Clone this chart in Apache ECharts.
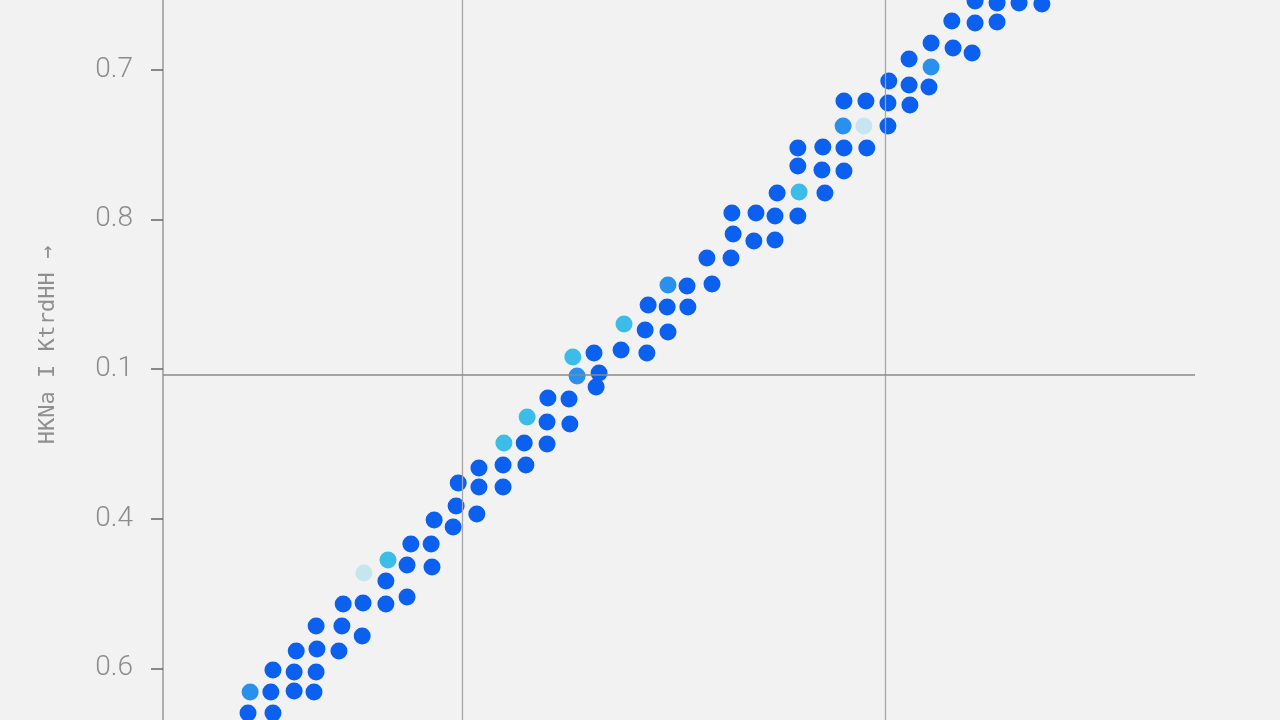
<!DOCTYPE html>
<html>
<head>
<meta charset="utf-8">
<script src="https://cdn.jsdelivr.net/npm/echarts@6/dist/echarts.min.js"></script>
<style>
  html, body { margin: 0; padding: 0; background: #f2f2f2; }
  #chart { width: 1280px; height: 720px; }
</style>
</head>
<body>
<div id="chart"></div>
<script>
// ---- data ----
const yTickValues = [10, 20, 30, 40, 50];
const yTickLabels = ['0.6', '0.4', '0.1', '0.8', '0.7'];
const yAxisTitle = 'HKNa I KtrdHH \u2192';
const verticalRefLines = [10, 20];
const horizontalRefLine = 29.6;

const darkPoints = [
  [4.94,7.02],[5.53,7.02],[5.48,8.42],[6.03,8.49],[6.50,8.42],[5.53,9.89],[6.03,9.76],[6.55,9.76],
  [6.08,11.16],[6.57,11.30],[7.09,11.16],[6.55,12.83],[7.16,12.83],[7.64,12.16],[7.19,14.30],[7.66,14.37],
  [8.20,14.30],[8.70,14.77],[8.20,15.84],[8.70,16.91],[9.29,16.77],[8.79,18.31],[9.27,18.31],[9.34,19.91],
  [9.79,19.45],[9.86,20.85],[10.35,20.31],[9.91,22.38],[10.40,22.12],[10.97,22.12],[10.40,23.39],[10.97,23.59],
  [11.51,23.59],[11.47,25.06],[12.01,24.99],[12.01,26.46],[12.55,26.33],[12.03,28.06],[12.53,28.00],[13.24,29.73],
  [13.17,28.80],[13.12,31.07],[13.76,31.27],[14.37,31.07],[14.33,32.61],[14.87,32.47],[14.40,34.28],[14.85,34.14],
  [15.34,34.14],[15.32,35.54],[15.91,35.68],[15.79,37.41],[16.36,37.41],[16.38,40.42],[16.95,40.42],[17.40,40.22],
  [17.94,40.22],[16.41,39.02],[16.90,38.55],[17.40,38.62],[17.45,41.76],[18.58,41.76],[17.94,43.56],[18.51,43.29],
  [19.03,43.23],[17.94,44.76],[18.53,44.83],[19.03,44.76],[19.57,44.76],[20.07,46.23],[19.03,47.90],[19.55,47.90],
  [20.07,47.77],[20.59,47.64],[20.09,49.24],[20.57,48.97],[21.04,48.84],[20.57,50.71],[21.09,51.78],[21.61,51.44],
  [22.06,51.11],[21.58,53.25],[22.13,53.11],[22.65,53.18],[22.13,54.58],[22.65,54.45],[23.17,54.45],[23.71,54.38]
];
const lightPoints = [[4.99,8.42],[12.72,29.53],[14.87,35.61],[19.01,46.23],[21.09,50.17]];
const cyanPoints = [[8.25,17.24],[10.99,25.06],[11.54,26.79],[12.62,30.80],[13.83,33.01],[17.97,41.82]];
const palePoints = [[7.68,16.37],[19.50,46.23]];

// ---- chart ----
const chart = echarts.init(document.getElementById('chart'), null, { renderer: 'canvas' });
const labelMap = {};
yTickValues.forEach((v, i) => { labelMap[v] = yTickLabels[i]; });

const dotSeries = (data, color, z) => ({
  type: 'scatter',
  data: data,
  symbol: 'circle',
  symbolSize: 17,
  z: z,
  itemStyle: { color: color, opacity: 1 },
  emphasis: { disabled: true }
});

chart.setOption({
  animation: false,
  backgroundColor: '#f2f2f2',
  grid: { left: 163, right: 85, top: 0, bottom: 0, containLabel: false },
  xAxis: {
    type: 'value',
    min: 2.93,
    max: 27.33,
    show: false,
    splitLine: { show: false }
  },
  yAxis: {
    type: 'value',
    min: 6.55,
    max: 54.65,
    name: yAxisTitle,
    nameLocation: 'middle',
    nameRotate: 90,
    nameGap: 104,
    nameTextStyle: { color: '#8f8f8f', fontSize: 22, fontFamily: 'DejaVu Sans Mono', padding: [0, 0, 0, 30] },
    axisLine: { show: true, lineStyle: { color: '#9a9a9a', width: 1.5 } },
    axisTick: { show: true, length: 12, customValues: yTickValues, lineStyle: { color: '#666', width: 1.5 } },
    splitLine: { show: false },
    axisLabel: {
      margin: 30,
      color: '#8c8c8c',
      fontSize: 28,
      fontFamily: 'Roboto',
      fontWeight: 300,
      customValues: yTickValues,
      formatter: v => labelMap[v] || ''
    }
  },
  series: [
    {
      type: 'scatter',
      data: [],
      z: 1,
      silent: true,
      markLine: {
        silent: true,
        symbol: ['none', 'none'],
        label: { show: false },
        animation: false,
        data: [
          ...verticalRefLines.map(v => ({ xAxis: v, lineStyle: { color: '#a6a6a6', width: 1.3, type: 'solid' } })),
          { yAxis: horizontalRefLine, lineStyle: { color: '#8a8a8a', width: 1.5, type: 'solid' } }
        ]
      }
    },
    dotSeries(palePoints, '#c5e6ee', 2),
    dotSeries(darkPoints, '#0b60ef', 3),
    dotSeries(lightPoints, '#2a90ee', 3),
    dotSeries(cyanPoints, '#3cbde9', 3)
  ]
});
</script>
</body>
</html>
